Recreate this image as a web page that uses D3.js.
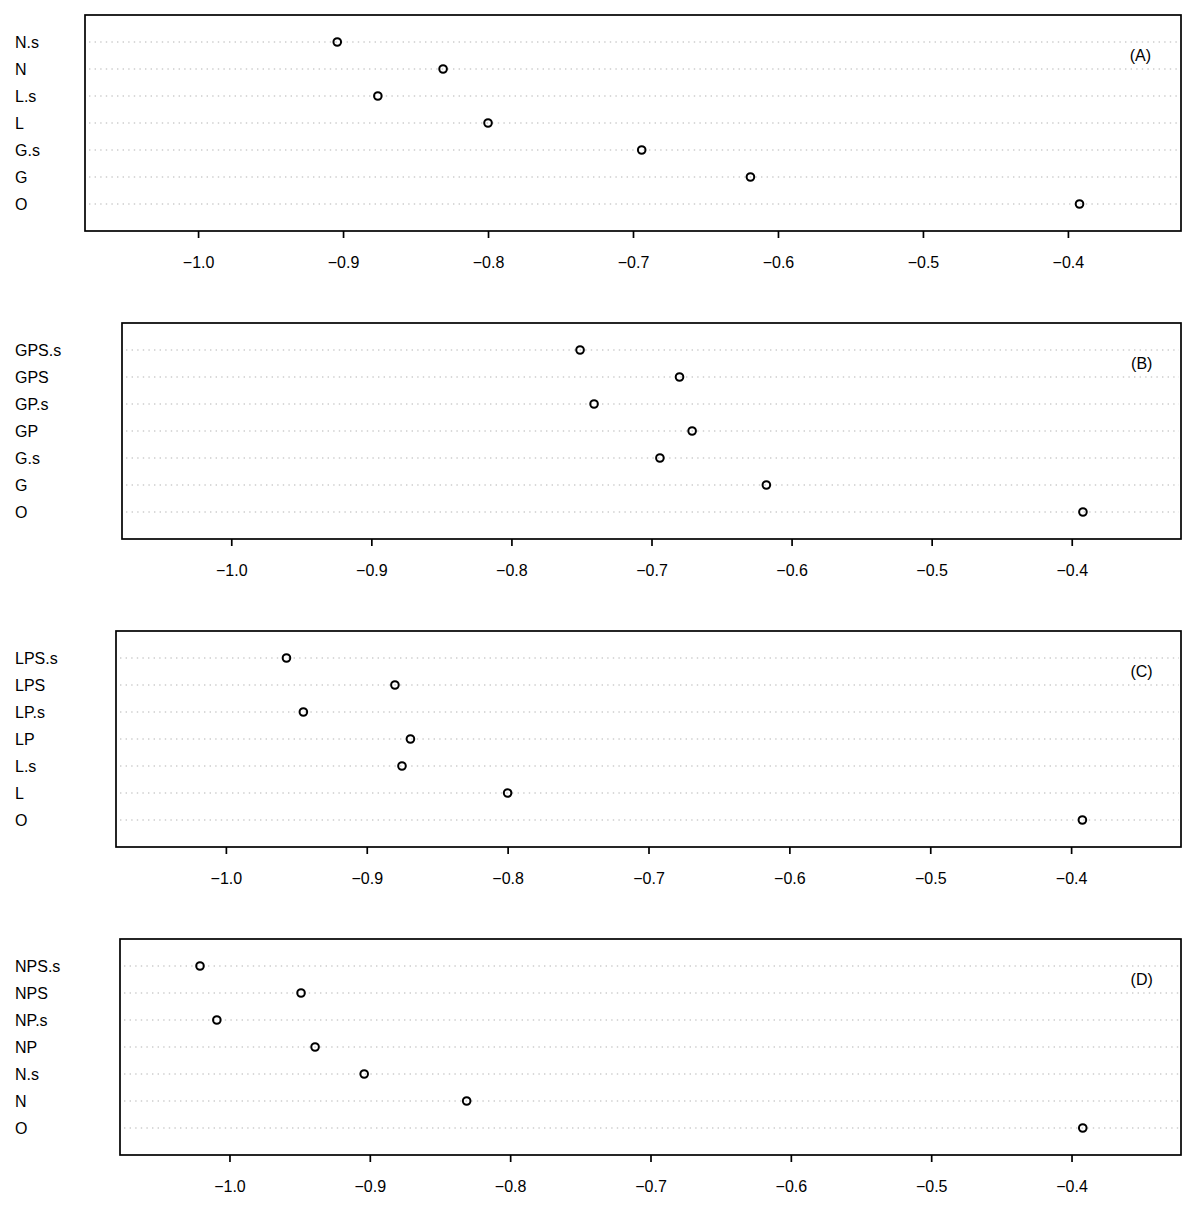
<!DOCTYPE html>
<html>
<head>
<meta charset="utf-8">
<script src="https://cdn.jsdelivr.net/npm/d3@7"></script>
<style>
    body { margin: 0; background: #fff; }
    text { font-family: "Liberation Sans", Arial, sans-serif; fill: #000; }
</style>
</head>
<body>
<div id="chart"></div>
<script>
// labels top -> bottom
const labelsA = ["N.s", "N", "L.s", "L", "G.s", "G", "O"];
const valuesA = [-0.904, -0.831, -0.876, -0.800, -0.694, -0.619, -0.392];

const labelsB = ["GPS.s", "GPS", "GP.s", "GP", "G.s", "G", "O"];
const valuesB = [-0.751, -0.680, -0.741, -0.671, -0.694, -0.618, -0.392];

const labelsC = ["LPS.s", "LPS", "LP.s", "LP", "L.s", "L", "O"];
const valuesC = [-0.957, -0.880, -0.945, -0.869, -0.875, -0.800, -0.392];

const labelsD = ["NPS.s", "NPS", "NP.s", "NP", "N.s", "N", "O"];
const valuesD = [-1.021, -0.949, -1.009, -0.939, -0.904, -0.831, -0.392];

const panelTags = ["(A)", "(B)", "(C)", "(D)"];
const xTicks = [-1.0, -0.9, -0.8, -0.7, -0.6, -0.5, -0.4];
const xlim = [-1.05, -0.35];

const width = 1196;
const height = 1232;

// layout of each panel box (left edge follows label width, like R's dotchart)
const panelLeft = [85, 122, 116, 120];
const panelRight = 1181;
const firstTop = 15;
const panelStep = 308;
const boxH = 216;
const labelX = 15;

const svg = d3.select("#chart")
    .append("svg")
    .attr("width", width)
    .attr("height", height);

const pad = (xlim[1] - xlim[0]) * 0.04;
const fmt = d3.format(".1f");

function drawPanel(i, labels, values) {
    const top = firstTop + i * panelStep;
    const left = panelLeft[i];
    const n = labels.length;

    const x = d3.scaleLinear()
        .domain([xlim[0] - pad, xlim[1] + pad])
        .range([left, panelRight]);
    // rows 1..n from bottom, y range 0..n+1
    const y = d3.scaleLinear()
        .domain([0, n + 1])
        .range([top + boxH, top]);

    const g = svg.append("g").attr("class", "panel");

    // dotted guide lines
    g.selectAll(".guide")
        .data(labels)
        .enter()
        .append("line")
        .attr("class", "guide")
        .attr("x1", left + 4)
        .attr("x2", panelRight - 2)
        .attr("y1", (d, k) => y(n - k))
        .attr("y2", (d, k) => y(n - k))
        .style("stroke", "#b4b4b4")
        .style("stroke-width", 1.2)
        .style("stroke-dasharray", "1.4,4.2");

    // row labels
    g.selectAll(".lab")
        .data(labels)
        .enter()
        .append("text")
        .attr("class", "lab")
        .attr("x", labelX)
        .attr("y", (d, k) => y(n - k))
        .attr("dy", "0.37em")
        .style("font-size", "16px")
        .text(d => d);

    // points
    g.selectAll(".pt")
        .data(values)
        .enter()
        .append("circle")
        .attr("class", "pt")
        .attr("cx", d => x(d))
        .attr("cy", (d, k) => y(n - k))
        .attr("r", 3.8)
        .style("fill", "none")
        .style("stroke", "#000")
        .style("stroke-width", 2);

    // panel tag
    g.append("text")
        .attr("x", x(-0.35))
        .attr("y", y(n - 0.5))
        .attr("dy", "0.36em")
        .attr("text-anchor", "middle")
        .style("font-size", "16px")
        .text(panelTags[i]);

    // box
    g.append("rect")
        .attr("x", left)
        .attr("y", top)
        .attr("width", panelRight - left)
        .attr("height", boxH)
        .style("fill", "none")
        .style("stroke", "#000")
        .style("stroke-width", 1.7);

    // x axis
    const axis = g.append("g")
        .attr("transform", `translate(0,${top + boxH})`)
        .call(d3.axisBottom(x)
            .tickValues(xTicks)
            .tickSize(7)
            .tickPadding(19)
            .tickFormat(d => fmt(d)));
    axis.select(".domain").remove();
    axis.selectAll(".tick line").style("stroke-width", 1.7);
    axis.selectAll(".tick text")
        .style("font-size", "16px")
        .style("font-family", "Liberation Sans, Arial, sans-serif");
}

drawPanel(0, labelsA, valuesA);
drawPanel(1, labelsB, valuesB);
drawPanel(2, labelsC, valuesC);
drawPanel(3, labelsD, valuesD);
</script>
</body>
</html>
